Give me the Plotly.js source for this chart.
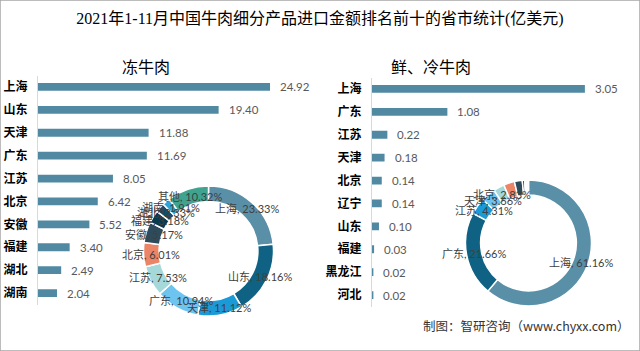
<!DOCTYPE html>
<html><head><meta charset="utf-8">
<script src="https://cdn.plot.ly/plotly-3.0.1.min.js"></script>
<style>html,body{margin:0;padding:0;background:#fff;}#chart{width:640px;height:351px;}</style>
</head><body><div id="chart"></div>
<script>
// ---------- DATA ----------
const titleText = '2021年1-11月中国牛肉细分产品进口金额排名前十的省市统计(亿美元)';
const frozenTitle = '冻牛肉';
const freshTitle = '鲜、冷牛肉';
const sourceText = '制图：智研咨询（www.chyxx.com）';

const frozenProvinces = ['上海','山东','天津','广东','江苏','北京','安徽','福建','湖北','湖南'];
const frozenValues = [24.92, 19.40, 11.88, 11.69, 8.05, 6.42, 5.52, 3.40, 2.49, 2.04];
const frozenPieLabels = ['上海','山东','天津','广东','江苏','北京','安徽','福建','湖北','湖南','其他'];
const frozenPiePct = [23.33, 18.16, 11.12, 10.94, 7.53, 6.01, 5.17, 3.18, 2.33, 1.91, 10.32];

const freshProvinces = ['上海','广东','江苏','天津','北京','辽宁','山东','福建','黑龙江','河北'];
const freshValues = [3.05, 1.08, 0.22, 0.18, 0.14, 0.14, 0.10, 0.03, 0.02, 0.02];
const freshPieLabels = ['上海','广东','江苏','天津','北京','辽宁','山东','福建','黑龙江','河北','其他'];
const freshPiePct = [61.16, 21.66, 4.31, 3.66, 2.83, 2.80, 2.00, 0.60, 0.40, 0.40, 0.18];
const freshPieLabelled = [true, true, true, true, true, false, false, false, false, false, false];

// ---------- STYLE ----------
const W = 640, H = 351;
const CJK = '"Noto Sans CJK SC", sans-serif';
const NUM = 'Lato, "Noto Sans CJK SC", sans-serif';
const SERIF = '"Liberation Serif", "Noto Sans CJK SC", serif';
const barColor = '#5189a3';
const pieColors = ['#5a8fa8','#0f6283','#1a9bd7','#6cc4ef','#a5d9d9','#ec8468','#2e4b5c','#0b3a4f','#124f6b','#2ea4d8','#3fa390'];

const leftBar = {x0: 38, x1: 300, xmax: 28.14, top: 75.5, bottom: 304.5};
const rightBar = {x0: 372, x1: 620, xmax: 3.553, top: 77.5, bottom: 306.5};
const leftPie = {cx: 208.5, cy: 251, r: 65, hole: 0.76};
const rightPie = {cx: 528.5, cy: 243, r: 63, hole: 0.76};

function dom(b) {
  return {x: [b.x0 / W, b.x1 / W], y: [1 - b.bottom / H, 1 - b.top / H]};
}
function pieDom(p) {
  return {x: [(p.cx - p.r) / W, (p.cx + p.r) / W], y: [1 - (p.cy + p.r) / H, 1 - (p.cy - p.r) / H]};
}

const dl = dom(leftBar), dr = dom(rightBar);

const traces = [
  {type: 'bar', orientation: 'h', x: frozenValues, y: frozenProvinces, xaxis: 'x', yaxis: 'y',
   marker: {color: barColor}, hoverinfo: 'none'},
  {type: 'bar', orientation: 'h', x: freshValues, y: freshProvinces, xaxis: 'x2', yaxis: 'y2',
   marker: {color: barColor}, hoverinfo: 'none'},
  {type: 'pie', labels: frozenPieLabels, values: frozenPiePct, sort: false, direction: 'clockwise',
   rotation: 0, hole: leftPie.hole, domain: pieDom(leftPie), textinfo: 'none', showlegend: false,
   marker: {colors: pieColors, line: {color: '#ffffff', width: 1.5}}, hoverinfo: 'none'},
  {type: 'pie', labels: freshPieLabels, values: freshPiePct, sort: false, direction: 'clockwise',
   rotation: 0, hole: rightPie.hole, domain: pieDom(rightPie), textinfo: 'none', showlegend: false,
   marker: {colors: pieColors, line: {color: '#ffffff', width: 1.5}}, hoverinfo: 'none'}
];

const annotations = [];
function barLabels(vals, cats, xr, yr) {
  vals.forEach((v, i) => annotations.push({
    x: v, y: cats[i], xref: xr, yref: yr, xanchor: 'left', yanchor: 'middle', xshift: 8,
    text: v.toFixed(2), showarrow: false, font: {family: NUM, size: 11.5, color: '#595959'}
  }));
}
barLabels(frozenValues, frozenProvinces, 'x', 'y');
barLabels(freshValues, freshProvinces, 'x2', 'y2');

function pieLabels(p, labels, pct, shown) {
  const total = pct.reduce((a, b) => a + b, 0);
  const rm = p.r * (1 + p.hole) / 2;
  let cum = 0;
  pct.forEach((v, i) => {
    const mid = (cum + v / 2) / total * 2 * Math.PI;
    cum += v;
    if (shown && !shown[i]) return;
    const px = p.cx + rm * Math.sin(mid);
    const py = p.cy - rm * Math.cos(mid);
    annotations.push({
      x: px / W, y: 1 - py / H, xref: 'paper', yref: 'paper', xanchor: 'center', yanchor: 'middle',
      text: labels[i] + ', ' + v.toFixed(2) + '%', showarrow: false,
      font: {family: NUM, size: 11, color: '#404040'}
    });
  });
}
pieLabels(leftPie, frozenPieLabels, frozenPiePct, null);
pieLabels(rightPie, freshPieLabels, freshPiePct, freshPieLabelled);

annotations.push(
  {x: 120 / W, y: 1 - 57 / H, xref: 'paper', yref: 'paper', text: frozenTitle, showarrow: false,
   font: {family: SERIF, size: 16, color: '#000'}},
  {x: 473 / W, y: 1 - 57 / H, xref: 'paper', yref: 'paper', text: freshTitle, showarrow: false,
   font: {family: SERIF, size: 16, color: '#000'}},
  {x: 632 / W, y: 1 - 337 / H, xref: 'paper', yref: 'paper', xanchor: 'right', text: sourceText,
   showarrow: false, font: {family: CJK, size: 12.5, color: '#333'}}
);

const yaxisStyle = {
  type: 'category', autorange: 'reversed', showline: true, linecolor: '#d9d9d9', linewidth: 1,
  ticks: 'outside', ticklen: 7, tickcolor: 'rgba(0,0,0,0)', showgrid: false, zeroline: false,
  tickfont: {family: CJK, size: 12, color: '#000', weight: 'bold'}, fixedrange: true
};
const xaxisStyle = {visible: false, showgrid: false, zeroline: false, fixedrange: true};

const layout = {
  width: W, height: H, margin: {l: 0, r: 0, t: 0, b: 0},
  paper_bgcolor: '#fff', plot_bgcolor: 'rgba(0,0,0,0)', showlegend: false, bargap: 0.66,
  title: {text: titleText, x: 0.5, xanchor: 'center', y: 1 - 18 / H, yanchor: 'middle',
          font: {family: SERIF, size: 16, color: '#000'}},
  xaxis: Object.assign({}, xaxisStyle, {domain: dl.x, range: [0, leftBar.xmax], anchor: 'y'}),
  yaxis: Object.assign({}, yaxisStyle, {domain: dl.y, anchor: 'x'}),
  xaxis2: Object.assign({}, xaxisStyle, {domain: dr.x, range: [0, rightBar.xmax], anchor: 'y2'}),
  yaxis2: Object.assign({}, yaxisStyle, {domain: dr.y, anchor: 'x2'}),
  annotations: annotations,
  shapes: [{type: 'rect', xref: 'paper', yref: 'paper', x0: 0, x1: 1, y0: 0, y1: 1,
            line: {color: '#a6a6a6', width: 1.5}}]
};

Plotly.newPlot('chart', traces, layout, {displayModeBar: false, staticPlot: true});
</script></body></html>
